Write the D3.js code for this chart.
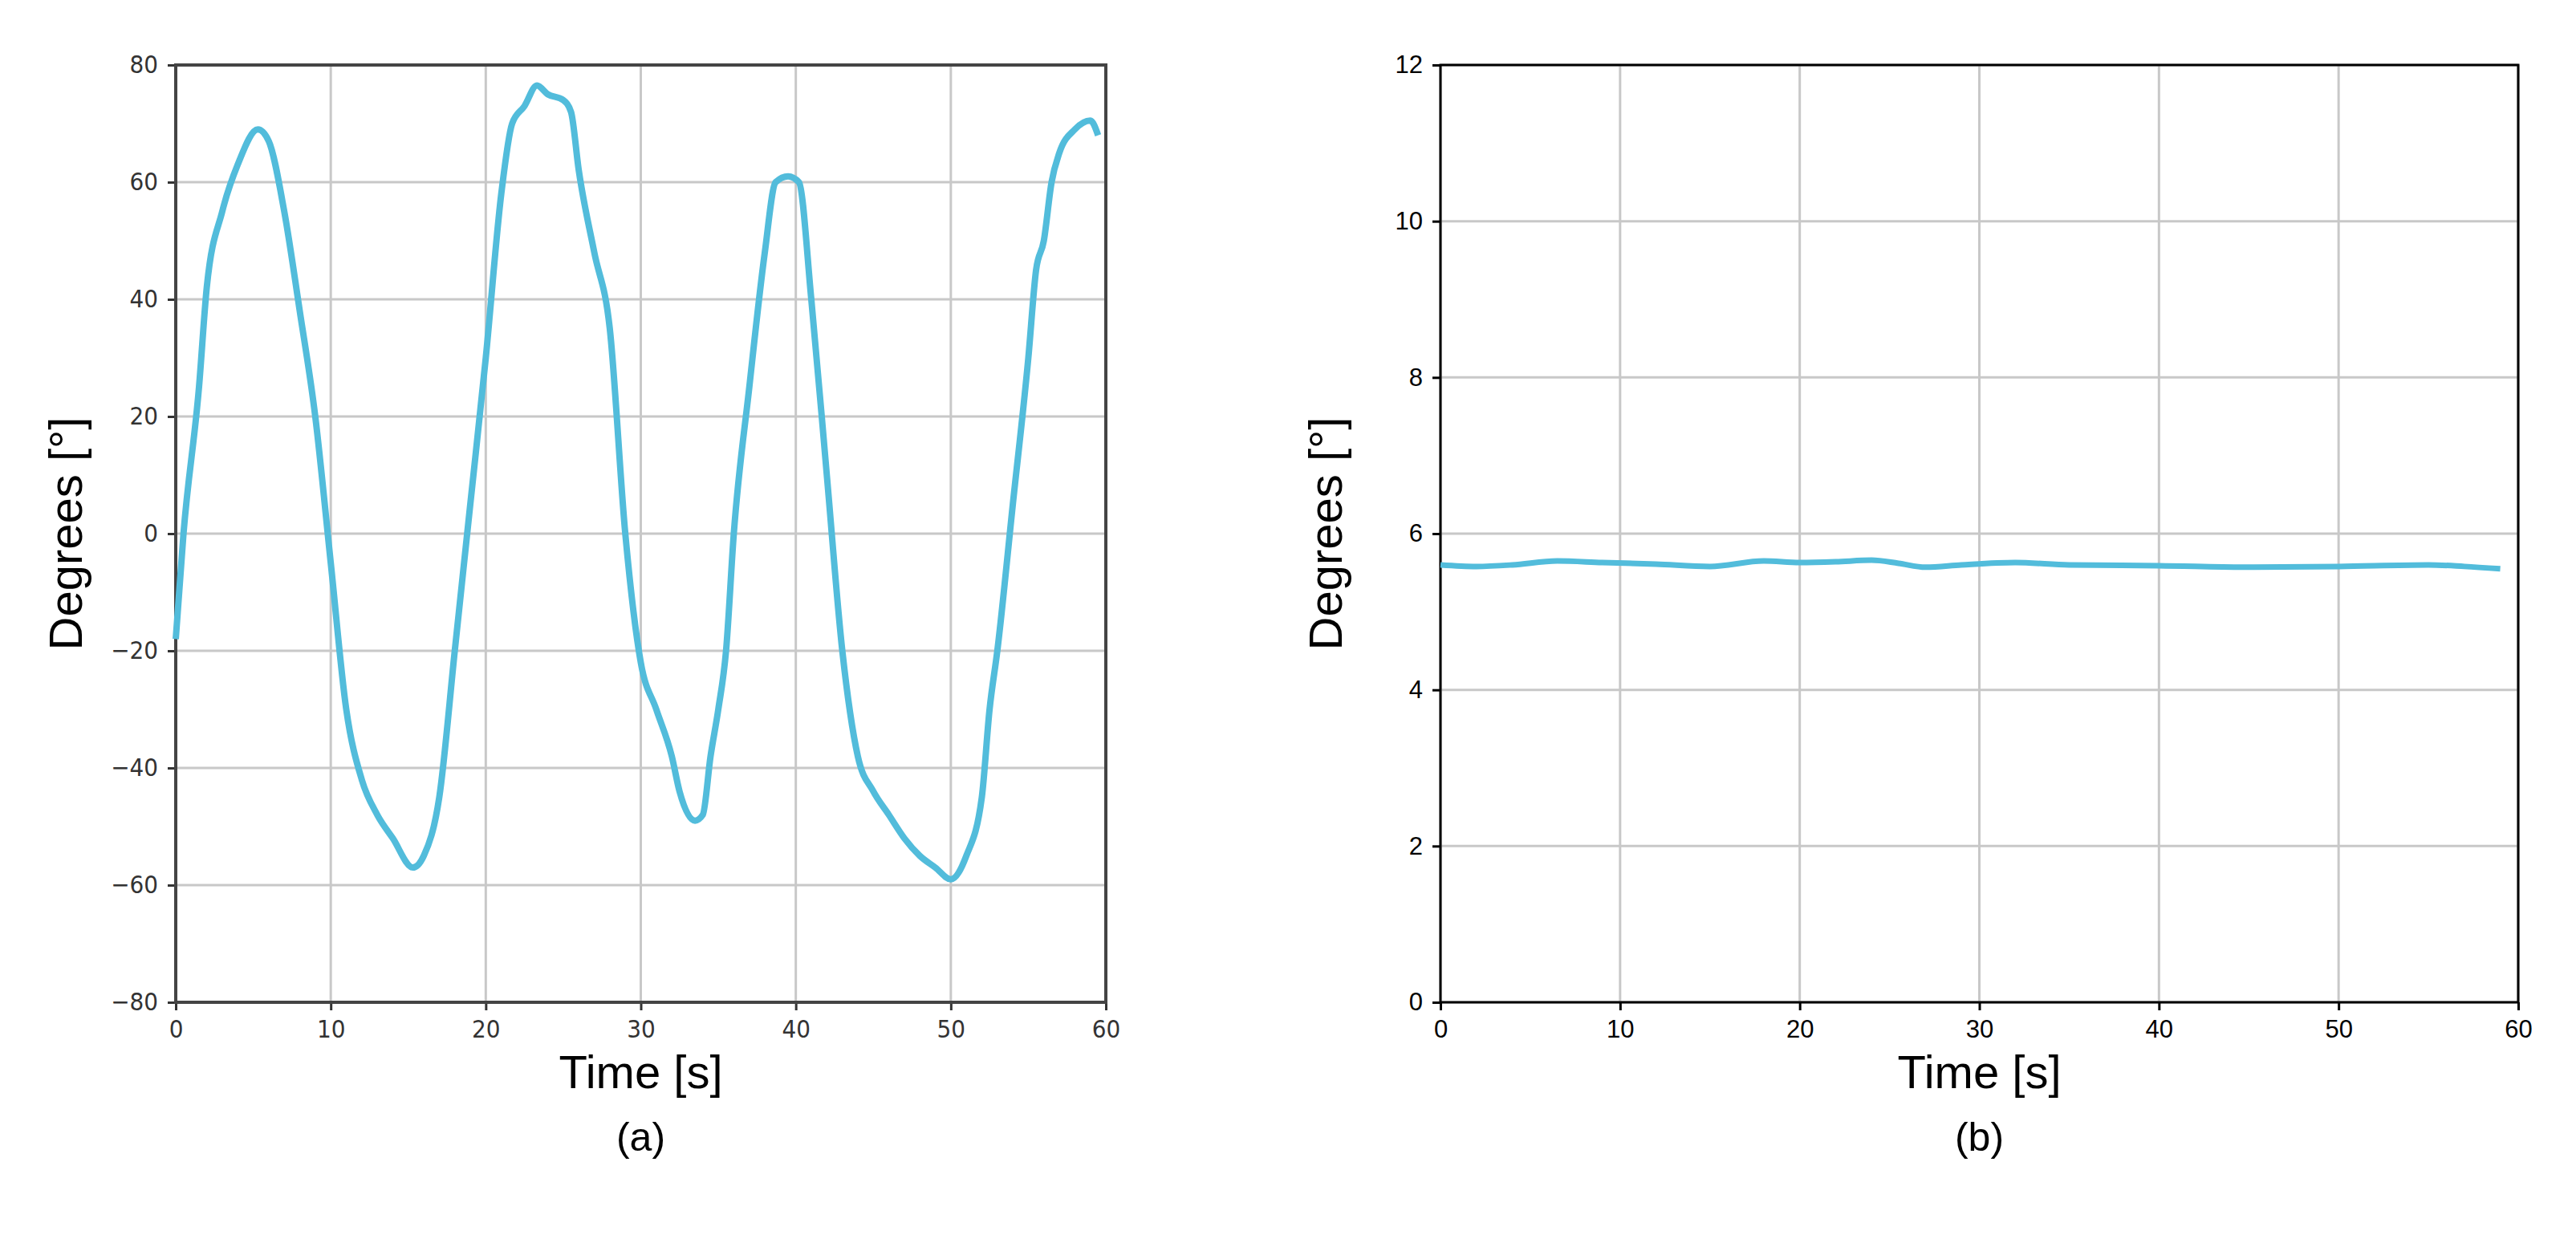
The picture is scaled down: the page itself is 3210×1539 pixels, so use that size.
<!DOCTYPE html><html><head><meta charset="utf-8"><script src="https://cdn.jsdelivr.net/npm/d3@7"></script>
<style>body{margin:0;background:#fff}</style></head><body><svg id="c" width="3210" height="1539"></svg><script>
const timeA=[0,0.5,1.5,2,3,4,5.3,6,7,8,9,10,11,12,13,14,15.3,16,17,18,19,20,21,21.7,22.5,23.3,24,25,25.5,26,27,28,29,30,31,32,32.5,33.5,34,34.5,35,35.5,36,37,38,38.7,39.5,40.2,41,42,43,44,45,46,47,48,49,50,51,52,52.5,53,54,55,55.5,56,56.5,57,58,59,59.5];
const degA=[-18,0,25,42,55,63,69,67,55,38,20,-5,-30,-42,-48,-52,-57,-55,-45,-20,5,30,58,70,73,76.5,75,74,72,62,48,35,0,-22,-30,-38,-44,-49,-48,-38,-30,-20,0,25,48,60,61,60,40,10,-20,-38,-44,-48,-52,-55,-57,-59,-55,-45,-30,-20,5,30,45,50,60,65,69,70.5,68];
const timeB=[0,2,4,6.5,9,12,15,18,20,22,24,25.5,27,29,32,35,40,45,50,55,57,59];
const degB=[5.6,5.58,5.6,5.65,5.63,5.61,5.58,5.65,5.63,5.64,5.66,5.62,5.57,5.6,5.63,5.6,5.59,5.57,5.58,5.6,5.58,5.55];
const xTicks=[0,10,20,30,40,50,60];
const yTicksA=[-80,-60,-40,-20,0,20,40,60,80];
const yTicksB=[0,2,4,6,8,10,12];
const svg=d3.select("#c");
function panel(o){
 const x=d3.scaleLinear().domain([0,60]).range([o.x0,o.x1]);
 const y=d3.scaleLinear().domain(o.yd).range([o.y1,o.y0]);
 const g=svg.append("g");
 g.selectAll(".gx").data(xTicks).join("line").attr("x1",d=>x(d)).attr("x2",d=>x(d)).attr("y1",o.y0).attr("y2",o.y1).attr("stroke","#c8c8c8").attr("stroke-width",3);
 g.selectAll(".gy").data(o.yt).join("line").attr("y1",d=>y(d)).attr("y2",d=>y(d)).attr("x1",o.x0).attr("x2",o.x1).attr("stroke","#c8c8c8").attr("stroke-width",3);
 const ax=g.append("g").attr("transform",`translate(0,${o.y1})`).call(d3.axisBottom(x).tickValues(xTicks).tickSize(10).tickPadding(12));
 const ay=g.append("g").attr("transform",`translate(${o.x0},0)`).call(d3.axisLeft(y).tickValues(o.yt).tickFormat(o.fmt).tickSize(10).tickPadding(12));
 [ax,ay].forEach(a=>{a.select(".domain").remove();a.selectAll("line").attr("stroke",o.tc).attr("stroke-width",3);a.selectAll("text").attr("font-family",o.ff).attr("font-size",31).attr("fill",o.tc);});
 g.append("rect").attr("x",o.x0).attr("y",o.y0).attr("width",o.x1-o.x0).attr("height",o.y1-o.y0).attr("fill","none").attr("stroke",o.fc).attr("stroke-width",o.fw);
 g.append("path").datum(o.t.map((t,i)=>[t,o.v[i]])).attr("d",d3.line().x(d=>x(d[0])).y(d=>y(d[1])).curve(d3.curveMonotoneX)).attr("fill","none").attr("stroke","#52bcdb").attr("stroke-width",o.lw).attr("stroke-linejoin","round");
 const cx=(o.x0+o.x1)/2;
 g.append("text").attr("x",cx).attr("y",1356).attr("text-anchor","middle").attr("font-family","Liberation Sans, Arial").attr("font-size",58).text("Time [s]");
 g.append("text").attr("x",cx).attr("y",1434).attr("text-anchor","middle").attr("font-family","Liberation Sans, Arial").attr("font-size",50).text(o.lab);
 g.append("text").attr("transform",`translate(${o.yl},${(o.y0+o.y1)/2}) rotate(-90)`).attr("text-anchor","middle").attr("font-family","Liberation Sans, Arial").attr("font-size",58).text("Degrees [°]");
}
panel({x0:219,x1:1378,y0:81,y1:1249,yd:[-80,80],yt:yTicksA,fmt:d=>d<0?"\u2212"+(-d):d,t:timeA,v:degA,lab:"(a)",yl:102,ff:"DejaVu Sans Condensed, DejaVu Sans",tc:"#333",fc:"#444",fw:4,lw:8});
panel({x0:1795,x1:3138,y0:81,y1:1249,yd:[0,12],yt:yTicksB,fmt:d=>d,t:timeB,v:degB,lab:"(b)",yl:1672,ff:"Liberation Sans, Arial",tc:"#000",fc:"#000",fw:3,lw:7});
</script></body></html>
